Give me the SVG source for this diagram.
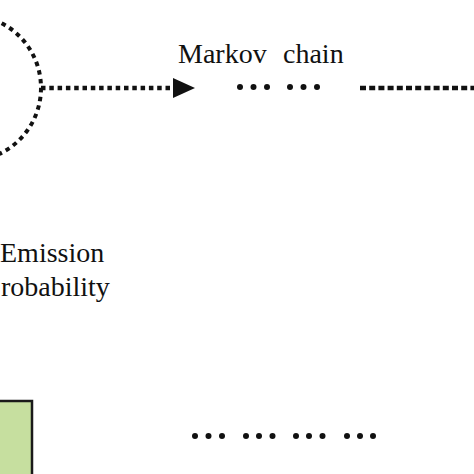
<svg xmlns="http://www.w3.org/2000/svg" width="474" height="474" viewBox="0 0 474 474">
<style>
text{font-family:"Liberation Serif","Times New Roman",serif;font-size:28px;fill:#111}
.dot{fill:#111}
</style>
<rect width="474" height="474" fill="#fff"/>
<g id="state-circle">
<circle cx="-32" cy="88" r="73" fill="none" stroke="#111" stroke-width="4" stroke-dasharray="4.5 4.3"/>
</g>
<g id="observation-box">
<rect x="-4" y="401" width="36" height="80" fill="#c6df9f" stroke="#1a1a1a" stroke-width="2.5"/>
</g>
<g id="connectors">
<line x1="41" y1="88" x2="174" y2="88" stroke="#111" stroke-width="4.5" stroke-dasharray="4.5 3.8"/>
<polygon points="173,78 195,88 173,98" fill="#111"/>
<line x1="360" y1="88" x2="474" y2="88" stroke="#111" stroke-width="4.5" stroke-dasharray="6 3.2"/>
</g>
<g id="markov-dots">
<circle class="dot" cx="240" cy="87" r="3"/><circle class="dot" cx="253.5" cy="87" r="3"/><circle class="dot" cx="267" cy="87" r="3"/>
<circle class="dot" cx="290" cy="87" r="3"/><circle class="dot" cx="303.5" cy="87" r="3"/><circle class="dot" cx="317" cy="87" r="3"/>
</g>
<g id="bottom-dots">
<circle class="dot" cx="195" cy="436" r="3"/><circle class="dot" cx="208.5" cy="436" r="3"/><circle class="dot" cx="222" cy="436" r="3"/>
<circle class="dot" cx="246" cy="436" r="3"/><circle class="dot" cx="259" cy="436" r="3"/><circle class="dot" cx="272.5" cy="436" r="3"/>
<circle class="dot" cx="296" cy="436" r="3"/><circle class="dot" cx="309" cy="436" r="3"/><circle class="dot" cx="322.5" cy="436" r="3"/>
<circle class="dot" cx="347" cy="436" r="3"/><circle class="dot" cx="360" cy="436" r="3"/><circle class="dot" cx="373" cy="436" r="3"/>
</g>
<g id="labels">
<text x="178" y="63">Markov<tspan x="283">chain</tspan></text>
<text x="0" y="262">Emission</text>
<text x="1" y="296">robability</text>
</g>
</svg>
